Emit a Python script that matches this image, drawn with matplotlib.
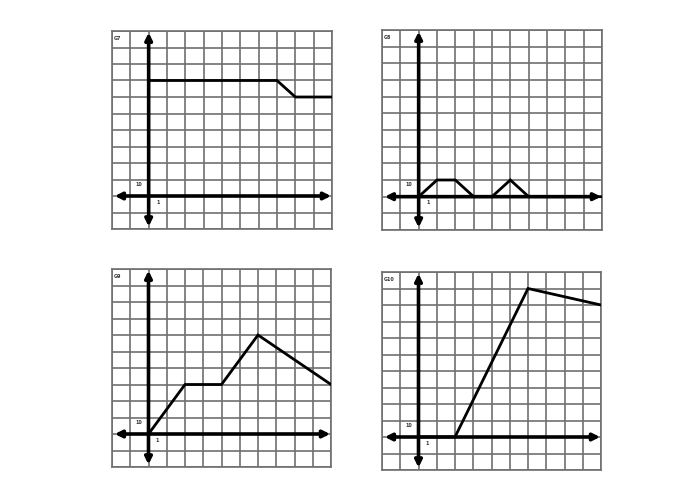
import matplotlib
matplotlib.use("Agg")
import matplotlib.pyplot as plt

# graph titles and the piecewise lines (x in steps of 1, y in steps of 10)
titles = ["G7", "G8", "G9", "G10"]
g7_x = [0, 7, 8, 10]
g7_y = [70, 70, 60, 60]
g8_x = [0, 1, 2, 3, 4, 5, 6, 10]
g8_y = [0, 10, 10, 0, 0, 10, 0, 0]
g9_x = [0, 2, 4, 6, 10]
g9_y = [0, 30, 30, 60, 30]
g10_x = [0, 2, 6, 10]
g10_y = [0, 0, 90, 80]

series = [(g7_x, g7_y), (g8_x, g8_y), (g9_x, g9_y), (g10_x, g10_y)]

# panel boxes in pixels: left, top, right, bottom
boxes = [(112, 31, 332, 229), (382, 30, 602, 230),
         (112, 269, 331, 467), (382, 272, 601, 470)]

W, H = 700, 484
fig = plt.figure(figsize=(W / 100, H / 100), dpi=100)

for title, (xs, ys), (l, t, r, b) in zip(titles, series, boxes):
    ax = fig.add_axes([l / W, 1 - b / H, (r - l) / W, (b - t) / H])
    ax.set_xlim(-2, 10)
    ax.set_ylim(-20, 100)

    # gray grid paper
    for gx in range(-2, 11):
        ax.axvline(gx, color="#707070", lw=1.2, zorder=1)
    for gy in range(-20, 101, 10):
        ax.axhline(gy, color="#707070", lw=1.2, zorder=1)
    for s in ax.spines.values():
        s.set_color("#707070")
        s.set_linewidth(1.2)
    ax.set_xticks([])
    ax.set_yticks([])

    # axes with arrows at both ends
    arrow = dict(arrowstyle="<|-|>", color="black", lw=2.6,
                 mutation_scale=10, shrinkA=0, shrinkB=0)
    ax.annotate("", xy=(9.95, 0), xytext=(-1.85, 0), arrowprops=arrow, zorder=3)
    ax.annotate("", xy=(0, 99), xytext=(0, -18.5), arrowprops=arrow, zorder=3)

    ax.plot(xs, ys, color="black", lw=2.0, zorder=4, solid_joinstyle="miter")

    ax.text(-1.9, 97, title, fontsize=3.5, fontweight="bold", ha="left", va="top", color="#333333")
    ax.text(-0.55, 7, "10", fontsize=3.5, fontweight="bold", ha="center", va="center", color="#333333")
    ax.text(0.5, -3.8, "1", fontsize=3.5, fontweight="bold", ha="center", va="center", color="#333333")

fig.savefig("out.png", dpi=100, facecolor="white")
